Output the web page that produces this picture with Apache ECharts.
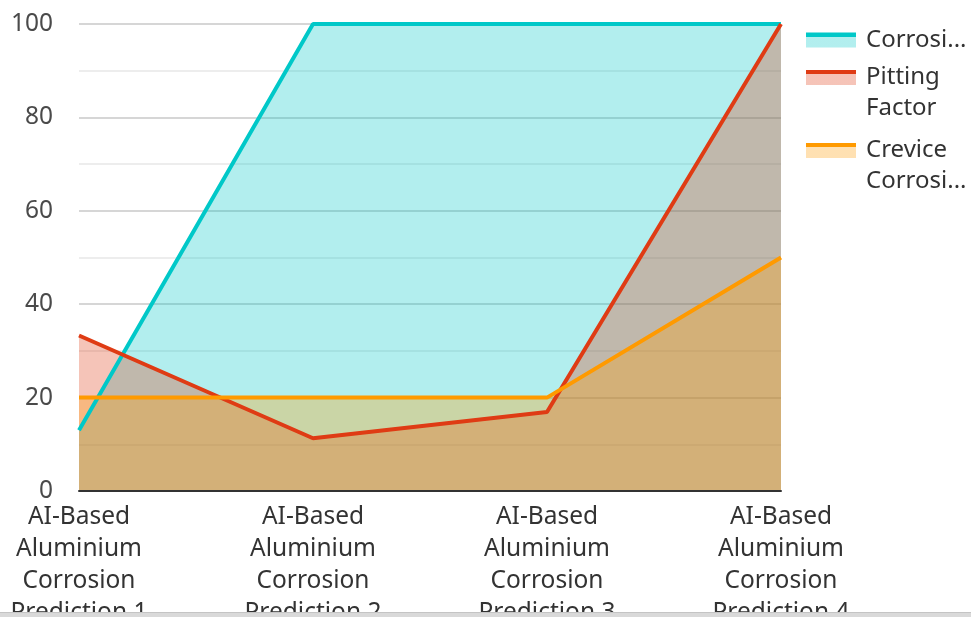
<!DOCTYPE html>
<html>
<head>
<meta charset="utf-8">
<script src="https://cdn.jsdelivr.net/npm/echarts@6/dist/echarts.min.js"></script>
<style>
  html, body { margin: 0; padding: 0; background: #fff; overflow: hidden; }
  #chart { width: 971px; height: 612px; }
  #strip { width: 971px; height: 5px; background: #d9d9d9; border-top: 1px solid #c4c4c4; box-sizing: border-box; }
</style>
</head>
<body>
<div id="chart"></div>
<div id="strip"></div>
<script>
// Prediction runs along the category axis
const categories = [
  'AI-Based Aluminium Corrosion Prediction 1',
  'AI-Based Aluminium Corrosion Prediction 2',
  'AI-Based Aluminium Corrosion Prediction 3',
  'AI-Based Aluminium Corrosion Prediction 4'
];
const seriesNames = ['Corrosion', 'Pitting Factor', 'Crevice Corrosion'];
const corrosion = [13, 100, 100, 100];
const pittingFactor = [33.3, 11.3, 16.9, 100];
const creviceCorrosion = [20, 20, 20, 50];
const yTicks = [0, 20, 40, 60, 80, 100];

const colors = ['#00c8c8', '#df3b14', '#ff9a00'];
const fills = ['rgba(0,200,200,0.3)', 'rgba(223,59,20,0.3)', 'rgba(255,154,0,0.3)'];

const FONT = 'Noto Sans';
const LEGEND_SIZE = 24;
const LEGEND_WIDTH = 108;

const chart = echarts.init(document.getElementById('chart'));

// Category labels: the first three words stacked, the run number kept with "Prediction".
function categoryLabel(s) {
  const w = s.split(' ');
  return w.slice(0, 3).join('\n') + '\n' + w.slice(3).join(' ');
}

// Legend names: one word per line, each clipped to the column width.
// Multi-word names get a blank first line so the first word sits level with the swatch.
function legendText(name) {
  const words = name.split(' ').map(w =>
    '{t|' + echarts.format.truncateText(w, LEGEND_WIDTH, LEGEND_SIZE + 'px ' + FONT, '...') + '}'
  );
  return words.length > 1 ? '{t| }\n' + words.join('\n') : words[0];
}

function legendIcon(i) {
  return new echarts.graphic.LinearGradient(0, 0, 0, 1, [
    { offset: 0, color: colors[i] },
    { offset: 0.27, color: colors[i] },
    { offset: 0.27, color: fills[i] },
    { offset: 1, color: fills[i] }
  ]);
}

const legendTops = [24.5, 31, 104];
const legends = seriesNames.map((name, i) => ({
  orient: 'vertical',
  left: 806,
  top: legendTops[i],
  padding: 0,
  itemWidth: 50,
  itemHeight: 15,
  itemGap: 10,
  icon: 'rect',
  selectedMode: false,
  formatter: legendText,
  textStyle: {
    fontFamily: FONT,
    fontSize: LEGEND_SIZE,
    color: '#333',
    lineHeight: 31,
    rich: {
      t: {
        fontFamily: FONT,
        fontSize: LEGEND_SIZE,
        color: '#333',
        lineHeight: 31,
        padding: [0, 0, 0, 5]
      }
    }
  },
  data: [{ name: name, itemStyle: { color: legendIcon(i) } }]
}));

const dataSets = [corrosion, pittingFactor, creviceCorrosion];

chart.setOption({
  animation: false,
  color: colors,
  legend: legends,
  grid: { left: 79, right: 190, top: 24, bottom: 121, outerBoundsMode: 'none', containLabel: false },
  xAxis: {
    type: 'category',
    data: categories,
    boundaryGap: false,
    z: 10,
    axisLine: { show: true, lineStyle: { color: '#333', width: 2 } },
    axisTick: { show: false },
    splitLine: { show: false },
    axisLabel: {
      interval: 0,
      margin: 10,
      fontFamily: FONT,
      fontSize: 24.5,
      color: '#333',
      lineHeight: 32,
      formatter: categoryLabel
    }
  },
  yAxis: {
    type: 'value',
    min: yTicks[0],
    max: yTicks[yTicks.length - 1],
    interval: yTicks[1] - yTicks[0],
    axisLine: { show: false },
    axisTick: { show: false },
    axisLabel: {
      margin: 26,
      fontFamily: FONT,
      fontSize: 24.5,
      color: '#4a4a4a'
    },
    splitLine: { lineStyle: { color: '#c8c8c8', width: 1.5 } },
    minorTick: { show: false, splitNumber: 2 },
    minorSplitLine: { show: true, lineStyle: { color: '#e8e8e8', width: 1.5 } }
  },
  series: seriesNames.map((name, i) => ({
    name: name,
    type: 'line',
    data: dataSets[i],
    showSymbol: false,
    symbol: 'none',
    lineStyle: { width: 4, color: colors[i] },
    areaStyle: { color: fills[i], opacity: 1, origin: 'start' }
  }))
});
</script>
</body>
</html>
